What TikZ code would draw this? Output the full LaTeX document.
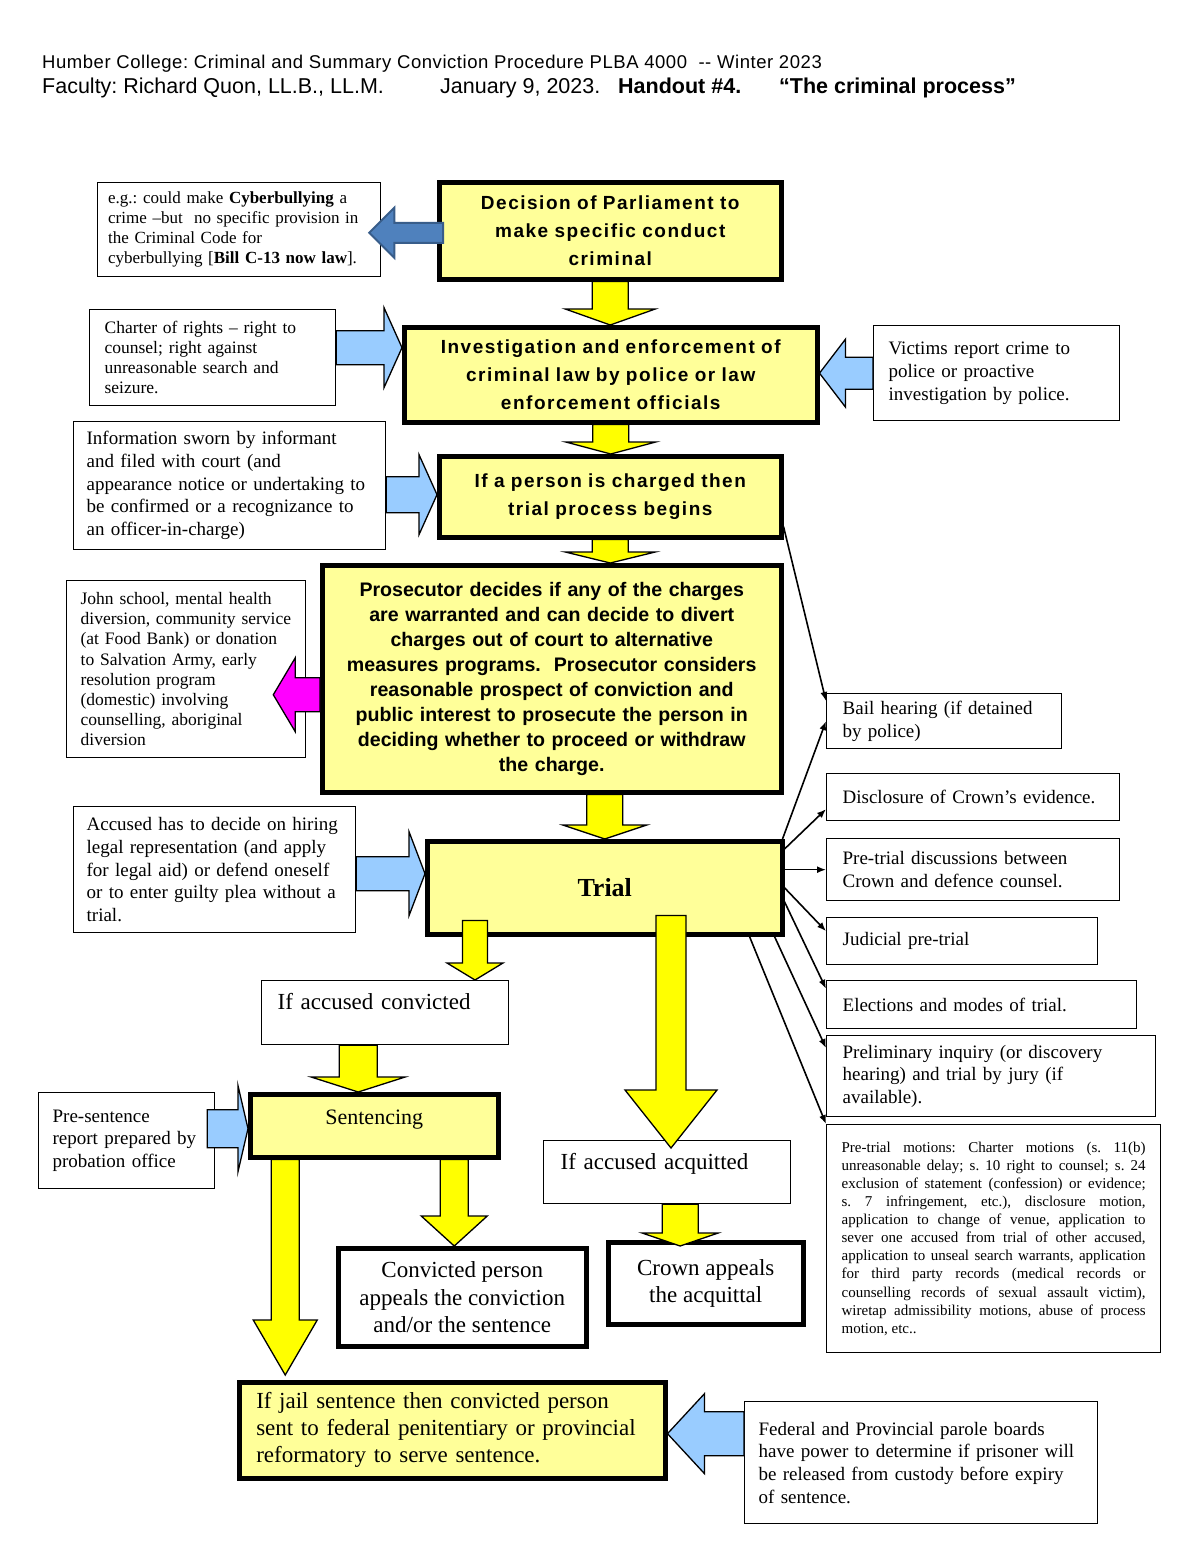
\documentclass[tikz,border=0pt]{standalone}
\usepackage{fontspec}
\setmainfont{Liberation Serif}
\newfontfamily\headfont[LetterSpace=8]{Liberation Sans}
\newfontfamily\titlefont[LetterSpace=3]{Liberation Sans}
\newfontfamily\plainsans{Liberation Sans}
\usetikzlibrary{arrows.meta,calc}

\definecolor{paleyellow}{HTML}{FFFF99}
\definecolor{arrowyellow}{HTML}{FFFF00}
\definecolor{skyblue}{HTML}{99CCFF}
\definecolor{steelblue}{HTML}{4F81BD}
\definecolor{steeldark}{HTML}{385D8A}
\definecolor{brightmagenta}{HTML}{FF00FF}

\tikzset{
	box/.style 2 args={minimum width=#1pt,minimum height=#2pt},
	note/.style={draw,line width=1.3pt,fill=white,align=left,anchor=north west,inner sep=0pt,font=\fontsize{19}{22.7}\selectfont},
	smallnote/.style={note,font=\fontsize{17.5}{20.2}\selectfont},
	stage/.style={draw,line width=4.5pt,fill=paleyellow,align=center,anchor=north west,inner sep=0pt},
	heading/.style={font=\headfont\bfseries\fontsize{19}{28}\selectfont},
	header/.style={anchor=base west,inner sep=0pt,font=\plainsans\fontsize{21.5}{24}\selectfont},
	conn/.style={line width=1.6pt,-{Latex[length=9pt,width=7pt]}},
	yblock/.style={fill=arrowyellow,draw=black,line width=1.3pt},
	bblock/.style={fill=skyblue,draw=black,line width=1.3pt},
	dblock/.style={fill=steelblue,draw=steeldark,line width=2pt},
	mblock/.style={fill=brightmagenta,draw=black,line width=1.3pt}
}

\newcommand{\vblock}[6]{\path[#1] let \p1=(#2), \p2=(#3) in
	({\x1-#4},\y1) -- ({\x1-#4},{\y2+#6}) -- ({\x1-#5},{\y2+#6}) -- (\x1,\y2)
	-- ({\x1+#5},{\y2+#6}) -- ({\x1+#4},{\y2+#6}) -- ({\x1+#4},\y1) -- cycle;}
\newcommand{\hblock}[6]{\path[#1] let \p1=(#2), \p2=(#3) in
	(\x1,{\y1+#4}) -- ({\x2-(#6)},{\y1+#4}) -- ({\x2-(#6)},{\y1+#5}) -- (\x2,\y1)
	-- ({\x2-(#6)},{\y1-#5}) -- ({\x2-(#6)},{\y1-#4}) -- (\x1,{\y1-#4}) -- cycle;}

\begin{document}
\frenchspacing
\begin{tikzpicture}[x=1pt,y=1pt]
	\path[use as bounding box,fill=white] (0,0) rectangle (1200,-1553);

	\node[header,font=\titlefont\fontsize{18.5}{20}\selectfont] (title) at (42,-68) {Humber College: Criminal and Summary Conviction Procedure PLBA 4000\ \ -{}- Winter 2023};
	\node[header] (faculty) at (42,-93) {Faculty: Richard Quon, LL.B., LL.M.};
	\node[header] (date) at (440,-93) {January 9, 2023.};
	\node[header,font=\plainsans\bfseries\fontsize{21.5}{24}\selectfont] (handout) at (618,-93) {Handout \#4.};
	\node[header,font=\plainsans\bfseries\fontsize{21.5}{24}\selectfont] (topic) at (779,-93) {“The criminal process”};

	\node[smallnote,box={283}{94},text width=262pt,font=\fontsize{17}{20}\selectfont] (eg) at (97,-182) {e.g.: could make \textbf{Cyberbullying} a\\crime –but\ \ no specific provision in\\the Criminal Code for\\cyberbullying [\textbf{Bill C-13 now law}].};
	\node[stage,box={342}{97},heading,text width=330pt] (parl) at (437,-180) {Decision of Parliament to\\make specific conduct\\criminal};
	\node[smallnote,box={246}{96},text width=216pt] (charter) at (89,-309) {Charter of rights – right to\\counsel; right against\\unreasonable search and\\seizure.};
	\node[stage,box={413}{95},heading,text width=405pt] (inv) at (402,-325) {Investigation and enforcement of\\criminal law by police or law\\enforcement officials};
	\node[note,box={246}{95},text width=216pt] (victims) at (873,-325) {Victims report crime to\\police or proactive\\investigation by police.};
	\node[note,box={312}{128},text width=286pt] (info) at (73,-421) {Information sworn by informant\\and filed with court (and\\appearance notice or undertaking to\\be confirmed or a recognizance to\\an officer-in-charge)};
	\node[stage,box={342}{81},heading,text width=330pt] (charged) at (437,-454) {If a person is charged then\\trial process begins};
	\node[smallnote,box={239}{177},text width=211pt] (john) at (66,-580) {John school, mental health\\diversion, community service\\(at Food Bank) or donation\\to Salvation Army, early\\resolution program\\(domestic) involving\\counselling, aboriginal\\diversion};
	\node[stage,box={459}{227},text width=450pt,font=\plainsans\bfseries\fontsize{19.6}{25}\selectfont] (pros) at (320,-563) {Prosecutor decides if any of the charges\\are warranted and can decide to divert\\charges out of court to alternative\\measures programs.\ \ Prosecutor considers\\reasonable prospect of conviction and\\public interest to prosecute the person in\\deciding whether to proceed or withdraw\\the charge.};
	\node[note,box={282}{126},text width=256pt] (accused) at (73,-806) {Accused has to decide on hiring\\legal representation (and apply\\for legal aid) or defend oneself\\or to enter guilty plea without a\\trial.};
	\node[stage,box={355}{93},font=\bfseries\fontsize{26}{30}\selectfont] (trial) at (425,-839) {Trial};

	\node[note,box={235}{55},text width=203pt] (bail) at (826,-693) {Bail hearing (if detained\\by police)};
	\node[note,box={293}{47},text width=261pt] (disc) at (826,-773) {Disclosure of Crown’s evidence.};
	\node[note,box={293}{62},text width=261pt] (ptd) at (826,-838) {Pre-trial discussions between\\Crown and defence counsel.};
	\node[note,box={271}{47},text width=239pt] (jud) at (826,-917) {Judicial pre-trial};
	\node[note,box={310}{48},text width=278pt] (elec) at (826,-980) {Elections and modes of trial.};
	\node[note,box={329}{81},text width=297pt] (prelim) at (826,-1035) {Preliminary inquiry (or discovery\\hearing) and trial by jury (if\\available).};
	\node[note,box={334}{228},text width=304pt,align=justify,font=\fontsize{15}{18.1}\selectfont] (motions) at (826,-1124) {Pre-trial motions: Charter motions (s. 11(b)\linebreak unreasonable delay; s. 10 right to counsel; s. 24\linebreak exclusion of statement (confession) or evidence;\linebreak s. 7 infringement, etc.), disclosure motion,\linebreak application to change of venue, application to\linebreak sever one accused from trial of other accused,\linebreak application to unseal search warrants, application\linebreak for third party records (medical records or\linebreak counselling records of sexual assault victim),\linebreak wiretap admissibility motions, abuse of process\linebreak motion, etc..};

	\node[note,box={247}{64},text width=215pt,text depth=22pt,font=\fontsize{23}{27.5}\selectfont] (conv) at (261,-980) {If accused convicted};
	\node[note,box={176}{96},text width=148pt] (presentence) at (38,-1092) {Pre-sentence\\report prepared by\\probation office};
	\node[stage,box={248}{63},text depth=18pt,font=\fontsize{22}{26}\selectfont] (sent) at (248,-1092) {Sentencing};
	\node[note,box={247}{63},text width=213pt,text depth=22pt,font=\fontsize{23}{27.5}\selectfont] (acq) at (543,-1140) {If accused acquitted};
	\node[stage,fill=white,box={195}{82},font=\fontsize{23}{27}\selectfont] (crown) at (606,-1240) {Crown appeals\\the acquittal};
	\node[stage,fill=white,box={248}{98},font=\fontsize{23}{27.5}\selectfont] (appeal) at (336,-1246) {Convicted person\\appeals the conviction\\and/or the sentence};
	\node[stage,box={426}{96},align=left,text width=392pt,font=\fontsize{23}{27}\selectfont] (jail) at (237,-1380) {If jail sentence then convicted person\\sent to federal penitentiary or provincial\\reformatory to serve sentence.};
	\node[note,box={353}{122},text width=325pt] (fed) at (744,-1401) {Federal and Provincial parole boards\\have power to determine if prisoner will\\be released from custody before expiry\\of sentence.};

	\draw[conn] ([yshift=13pt]charged.south east) -- ([yshift=-8pt]bail.north west);
	\draw[conn] ([xshift=-2pt]trial.north east) -- (bail.west);
	\draw[conn] ([yshift=-10pt]trial.north east) -- ([yshift=-12pt]disc.west);
	\draw[conn] (trial.east |- ptd.west) -- (ptd.west);
	\draw[conn] (trial.east) -- ([yshift=10pt]jud.west);
	\draw[conn] ([yshift=-14pt]trial.east) -- ([yshift=16pt]elec.west);
	\draw[conn] ([xshift=-10pt]trial.south east) -- ([yshift=-13pt]prelim.north west);
	\draw[conn] ([xshift=-35pt]trial.south east) -- (motions.north west);

	\vblock{yblock}{parl.south}{inv.north}{18pt}{45pt}{16pt}
	\vblock{yblock}{inv.south}{charged.north}{18pt}{45pt}{12pt}
	\vblock{yblock}{charged.south}{pros.north}{18pt}{45pt}{11pt}
	\vblock{yblock}{pros.south -| trial.north}{trial.north}{18pt}{42pt}{14pt}
	\vblock{yblock}{[shift={(50pt,16pt)}]trial.south west}{conv.north}{12.5pt}{28pt}{17pt}
	\vblock{yblock}{[shift={(246pt,21pt)}]trial.south west}{[yshift=-8pt]acq.north}{15pt}{46pt}{58pt}
	\vblock{yblock}{[xshift=-27pt]conv.south}{sent.north}{19pt}{47pt}{15pt}
	\vblock{yblock}{[xshift=13pt]acq.south}{[yshift=-6pt]crown.north}{18pt}{38pt}{13pt}
	\vblock{yblock}{[xshift=80pt]sent.south}{appeal.north}{14pt}{33pt}{30pt}
	\vblock{yblock}{[xshift=-89pt]sent.south}{[yshift=5pt]jail.north}{14pt}{32pt}{55pt}

	\hblock{bblock}{[yshift=10pt]charter.east}{inv.west}{17pt}{40pt}{18pt}
	\hblock{bblock}{[yshift=-9pt]info.east}{charged.west}{18pt}{40pt}{18pt}
	\hblock{bblock}{[yshift=-4pt]accused.east}{trial.west}{17pt}{42pt}{16pt}
	\hblock{bblock}{[shift={(-8pt,12pt)}]presentence.east}{sent.west}{19pt}{43pt}{10pt}
	\hblock{bblock}{victims.west}{inv.east}{16pt}{34pt}{-26pt}
	\hblock{bblock}{[yshift=29pt]fed.west}{jail.east}{22pt}{40pt}{-37pt}
	\hblock{dblock}{[shift={(6pt,-2pt)}]parl.west}{[xshift=-12pt]eg.east}{10pt}{25pt}{-25pt}
	\hblock{mblock}{[yshift=-16pt]pros.west}{[xshift=-33pt]john.east}{17pt}{37pt}{-22pt}
\end{tikzpicture}
\end{document}
